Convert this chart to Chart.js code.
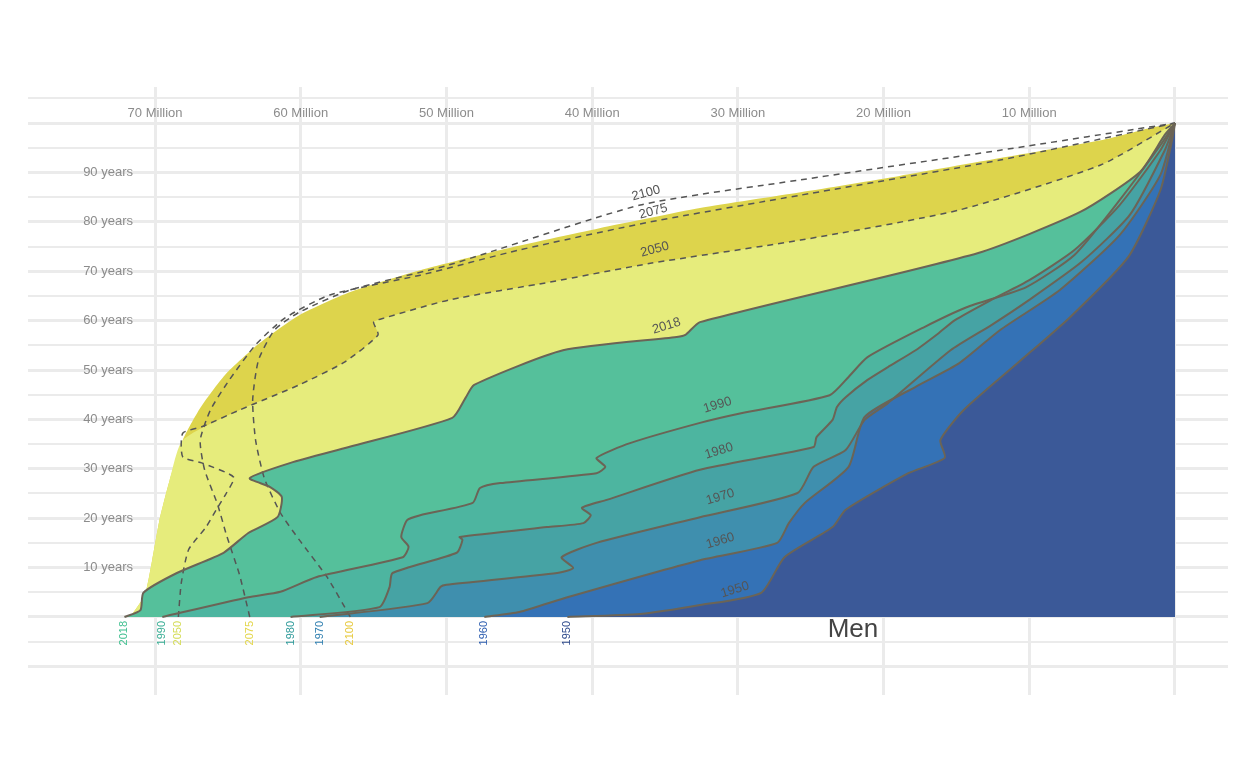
<!DOCTYPE html>
<html>
<head>
<meta charset="utf-8">
<script src="https://cdn.jsdelivr.net/npm/chart.js@4"></script>
<style>
  html, body { margin: 0; padding: 0; background: #fff; }
  #wrap { width: 1248px; height: 768px; }
</style>
</head>
<body>
<div id="wrap"><canvas id="c"></canvas></div>
<script>
// population (millions) living at or above each age, men — [pop, age]
const pop1950 = [[41.7,0],[36.7,0.6],[32.6,2.4],[28.4,4.9],[26.8,12.1],[23.5,18.2],[22.6,21.7],[18.3,29.1],[15.8,32.2],[16.1,35.8],[14.5,41.9],[10.8,51.4],[7.2,60.7],[3.2,72.9],[1.0,86.4],[0.2,96.5],[0,100]];
const pop1960 = [[47.4,0],[45.0,1.0],[41.7,4.0],[32.6,11.5],[27.3,15.0],[26.5,19.0],[25.4,23.1],[22.4,30.4],[21.3,40.5],[17.8,46.6],[14.8,51.4],[12.0,58.1],[7.9,66.2],[3.8,77.3],[1.0,89.5],[0,100]];
const pop1970 = [[58.7,0],[51.3,2.8],[50.4,6.1],[50.0,6.5],[42.4,8.9],[41.3,9.9],[42.1,12.1],[39.7,15.0],[32.6,20.2],[25.9,25.1],[24.8,30.4],[22.6,33.8],[21.3,39.9],[19.7,43.3],[15.4,54.0],[12.6,59.1],[10.0,64.2],[6.4,71.9],[3.1,81.4],[0.7,94.5],[0,100]];
const pop1980 = [[60.7,0],[54.6,2.0],[53.9,6.1],[53.7,8.9],[49.3,13.0],[48.9,15.6],[49.1,16.2],[43.1,18.2],[40.6,19.0],[40.1,20.6],[40.7,22.1],[39.0,23.7],[32.6,29.8],[24.8,34.4],[24.6,36.4],[23.5,39.9],[23.2,42.5],[22.6,44.5],[21.1,48.0],[19.7,50.6],[17.8,54.0],[16.2,57.5],[15.1,60.1],[12.6,64.2],[10.0,68.2],[6.9,74.3],[3.8,83.4],[1.0,94.5],[0,100]];
const pop1990 = [[69.5,0],[63.6,4.0],[61.4,5.1],[58.9,8.1],[53.0,12.1],[52.6,14.2],[53.1,16.2],[52.7,19.6],[51.8,20.6],[48.2,23.1],[47.7,26.1],[46.3,27.1],[39.7,29.1],[39.1,30.4],[39.7,32.2],[37.4,35.2],[32.6,39.3],[29.7,41.3],[23.7,44.9],[22.4,48.6],[21.1,52.6],[17.2,58.7],[14.3,62.7],[10.2,66.8],[6.9,73.3],[3.8,84.4],[1.0,95.5],[0,100]];
const pop2018 = [[72.1,0],[71.0,1.4],[70.8,4.9],[68.5,8.9],[65.3,13.0],[63.6,17.0],[61.6,20.2],[61.3,24.3],[62.1,26.3],[63.5,28.1],[60.7,31.2],[56.7,34.4],[49.6,40.3],[48.7,44.3],[48.1,47.0],[42.0,54.0],[34.2,56.7],[33.6,57.1],[32.6,59.7],[13.5,73.7],[6.5,82.0],[2.4,90.1],[0.7,97.6],[0,100]];
// projections
const pop2050 = [[68.4,0],[68.2,6.9],[67.7,13.6],[66.5,18.2],[65.8,21.7],[65.1,25.1],[64.6,28.3],[66.8,31.2],[68.1,32.4],[68.1,37.2],[66.8,38.5],[64.2,41.9],[60.1,47.0],[57.0,51.6],[54.7,57.1],[55.0,59.7],[54.3,60.5],[49.8,64.2],[42.9,67.8],[36.0,71.6],[25.7,76.3],[14.8,82.4],[5.1,91.5],[0,100]];
const pop2075 = [[63.5,0],[64.2,8.5],[65.1,16.6],[65.7,22.7],[66.6,29.8],[66.9,35.8],[66.2,41.9],[64.9,48.0],[63.1,55.1],[61.1,60.5],[58.0,65.2],[51.8,69.2],[45.0,74.3],[36.0,80.0],[25.7,85.4],[12.0,92.5],[0,100]];
const pop2100 = [[56.6,0],[58.2,8.1],[60.1,15.6],[61.4,21.1],[62.5,28.1],[63.1,35.8],[63.3,43.9],[62.9,52.0],[61.8,58.1],[60.1,61.7],[56.6,66.2],[49.8,71.3],[36.7,83.4],[25.7,88.5],[12.0,94.5],[0,100]];
// outer edge of all projected years
const popEnvelope = [[71.7,0],[70.7,4.5],[70.2,11.5],[69.7,19.6],[69.0,27.7],[68.1,35.8],[66.9,42.3],[65.2,49.0],[62.8,55.5],[60.1,61.1],[56.6,65.8],[51.8,70.2],[46.3,74.3],[39.5,78.7],[32.6,82.8],[25.7,86.0],[18.9,89.3],[12.0,92.9],[5.1,96.5],[1.7,99.0],[0,100]];

const years = ['1950','1960','1970','1980','1990','2018','2050','2075','2100'];
const yearColors = ['#2f4b8c','#2f5fb0','#2f7fb0','#2e9a9a','#3aae95','#3fbf8f','#d4dc55','#e3d64a','#e7c93c'];
const yTicks = [10,20,30,40,50,60,70,80,90];
const xTicks = [10,20,30,40,50,60,70];
// in-line year labels: [pop, age, angle]
const curveLabels = [['2100',36.3,85.8,-15],['2075',35.8,82.1,-15],['2050',35.7,74.4,-15],['2018',34.9,58.9,-17],['1990',31.4,42.9,-17],['1980',31.3,33.6,-17],['1970',31.2,24.3,-17],['1960',31.2,15.4,-17],['1950',30.2,5.5,-17]];

const pts = a => a.map(p => ({x: p[0], y: p[1]}));
// light yellow fill: outer edge below 40 years, 2050 line above
const lightFill = popEnvelope.filter(p => p[1] < 40).concat(pop2050.filter(p => p[1] >= 40));

const solid = (d, fillCol) => ({data: pts(d), borderColor: '#6b6456', borderWidth: 2, fill: 'origin', backgroundColor: fillCol, pointRadius: 0, tension: 0.2});
const dashed = d => ({data: pts(d), borderColor: '#555555', borderWidth: 1.5, borderDash: [6, 5], fill: false, pointRadius: 0, tension: 0.2});

const datasets = [
  solid(pop1950, '#3b5998'),
  solid(pop1960, '#3472b6'),
  solid(pop1970, '#3f8fae'),
  solid(pop1980, '#46a3a4'),
  solid(pop1990, '#4db5a0'),
  solid(pop2018, '#55c09b'),
  dashed(pop2050),
  dashed(pop2075),
  dashed(pop2100),
  {data: pts(lightFill), borderWidth: 0, borderColor: 'rgba(0,0,0,0)', fill: 'origin', backgroundColor: '#e6ec7c', pointRadius: 0, tension: 0.2},
  {data: pts(popEnvelope), borderWidth: 0, borderColor: 'rgba(0,0,0,0)', fill: 'origin', backgroundColor: '#ddd44c', pointRadius: 0, tension: 0.2}
];

const textPlugin = {
  id: 'texts',
  afterDraw(chart) {
    const ctx = chart.ctx, xs = chart.scales.x, ys = chart.scales.y;
    ctx.save();
    ctx.font = '13px "Liberation Sans", Arial, sans-serif';
    ctx.fillStyle = '#8c8c8c';
    ctx.textBaseline = 'middle';
    ctx.textAlign = 'right';
    yTicks.forEach(v => ctx.fillText(v + ' years', 133, ys.getPixelForValue(v)));
    ctx.textAlign = 'center';
    xTicks.forEach(v => ctx.fillText(v + ' Million', xs.getPixelForValue(v), 113));
    // year labels at the base of each curve
    const firsts = [pop1950, pop1960, pop1970, pop1980, pop1990, pop2018, pop2050, pop2075, pop2100];
    ctx.font = '11px "Liberation Sans", Arial, sans-serif';
    ctx.textAlign = 'right';
    firsts.forEach((d, i) => {
      ctx.save();
      ctx.translate(xs.getPixelForValue(d[0][0]), ys.getPixelForValue(0) + 4);
      ctx.rotate(-Math.PI / 2);
      ctx.fillStyle = yearColors[i];
      ctx.fillText(years[i], 0, 0);
      ctx.restore();
    });
    ctx.font = '13px "Liberation Sans", Arial, sans-serif';
    ctx.fillStyle = '#555';
    ctx.textAlign = 'center';
    curveLabels.forEach(l => {
      ctx.save();
      ctx.translate(xs.getPixelForValue(l[1]), ys.getPixelForValue(l[2]));
      ctx.rotate(l[3] * Math.PI / 180);
      ctx.fillText(l[0], 0, 0);
      ctx.restore();
    });
    ctx.font = '26px "Liberation Sans", Arial, sans-serif';
    ctx.fillStyle = '#444';
    ctx.fillText('Men', 853, 630);
    ctx.restore();
  }
};

new Chart(document.getElementById('c'), {
  type: 'line',
  data: {datasets},
  plugins: [textPlugin],
  options: {
    indexAxis: 'y',
    responsive: true,
    maintainAspectRatio: false,
    animation: false,
    layout: {padding: {left: 28, right: 20, top: 87, bottom: 73}},
    plugins: {legend: {display: false}, tooltip: {enabled: false}, filler: {drawTime: 'beforeDatasetsDraw'}},
    scales: {
      x: {
        type: 'linear', reverse: true, min: -3.64, max: 78.72,
        afterBuildTicks: s => { s.ticks = [0,10,20,30,40,50,60,70].map(v => ({value: v})); },
        ticks: {display: false},
        border: {display: false},
        grid: {color: '#ebebeb', lineWidth: 3, drawTicks: false}
      },
      y: {
        type: 'linear', min: -15.8, max: 107.3,
        afterBuildTicks: s => { const t = []; for (let v = -10; v <= 105; v += 5) t.push({value: v}); s.ticks = t; },
        ticks: {display: false},
        border: {display: false},
        grid: {color: '#ebebeb', lineWidth: c => (c.tick && c.tick.value % 10 === 0) ? 3 : 2, drawTicks: false}
      }
    }
  }
});
</script>
</body>
</html>
